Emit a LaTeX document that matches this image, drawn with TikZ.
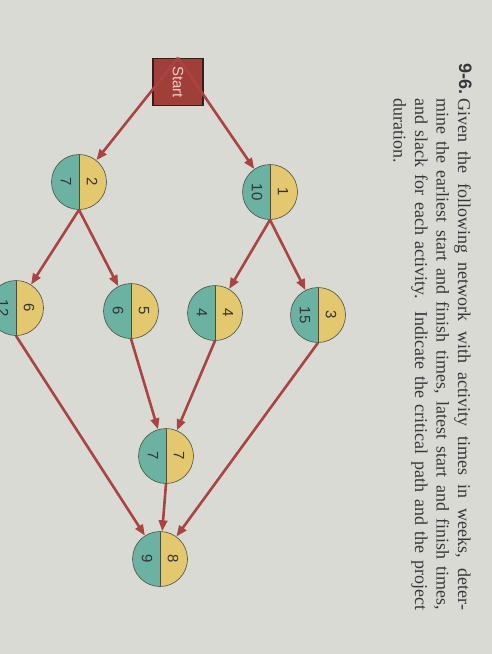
\documentclass[tikz,border=0pt]{standalone}
\usepackage{fontspec}
\setmainfont{Liberation Serif}
\newfontfamily\digitfont{Liberation Sans}
\usetikzlibrary{arrows.meta}
\definecolor{paper}{RGB}{218,218,213}
\definecolor{yelc}{RGB}{228,200,112}
\definecolor{tealc}{RGB}{108,178,163}
\definecolor{circedge}{RGB}{70,80,65}
\definecolor{divc}{RGB}{80,75,45}
\definecolor{arrc}{RGB}{170,68,66}
\definecolor{startfill}{RGB}{160,62,58}
\definecolor{startedge}{RGB}{55,30,28}
\definecolor{starttext}{RGB}{240,205,195}
\definecolor{textc}{RGB}{55,55,58}
\begin{document}
\begin{tikzpicture}[x=1pt,y=-1pt,
  act/.style={circle, minimum size=55pt, inner sep=0pt, draw=circedge, line width=0.6pt,
    path picture={
      \fill[tealc] (path picture bounding box.south west) rectangle (path picture bounding box.north);
      \fill[yelc] (path picture bounding box.south) rectangle (path picture bounding box.north east);
      \draw[divc, line width=0.9pt] (path picture bounding box.south) -- (path picture bounding box.north);}},
  num/.style={rotate=-90, font=\digitfont\fontsize{15}{15}\selectfont, text=black!80, inner sep=0pt},
  arr/.style={draw=arrc, line width=2.6pt, -{Triangle[length=11pt,width=8.5pt]}},
  startbox/.style={rectangle, minimum width=47pt, minimum height=50pt, fill=startfill, draw=startedge, line width=1.5pt,
    text=starttext, font=\digitfont\fontsize{15}{15}\selectfont, rotate=-90, inner sep=0pt},
  txt/.style={rotate=-90, font=\fontsize{18}{18}\selectfont, text=textc, inner sep=0pt},
  txtbold/.style={rotate=-90, font=\digitfont\bfseries\fontsize{18}{18}\selectfont, text=textc, inner sep=0pt}]
\useasboundingbox (0,0) rectangle (492,654);
\fill[paper] (0,0) rectangle (492,654);
\clip (0,0) rectangle (492,654);

\node[startbox] (start) at (178,82) {Start};
\node[act] (n1) at (270,192) {};
\node[act] (n2) at (79,182) {};
\node[act] (n3) at (318,315) {};
\node[act] (n4) at (215,313) {};
\node[act] (n5) at (131,311) {};
\node[act] (n6) at (16,308) {};
\node[act] (n7) at (166,456) {};
\node[act] (n8) at (160,559) {};

\node[num] (n1a) at ([xshift=13pt]n1.center) {1};
\node[num] (n1b) at ([xshift=-13pt]n1.center) {10};
\node[num] (n2a) at ([xshift=13pt]n2.center) {2};
\node[num] (n2b) at ([xshift=-13pt]n2.center) {7};
\node[num] (n3a) at ([xshift=13pt]n3.center) {3};
\node[num] (n3b) at ([xshift=-13pt]n3.center) {15};
\node[num] (n4a) at ([xshift=13pt]n4.center) {4};
\node[num] (n4b) at ([xshift=-13pt]n4.center) {4};
\node[num] (n5a) at ([xshift=13pt]n5.center) {5};
\node[num] (n5b) at ([xshift=-13pt]n5.center) {6};
\node[num] (n6a) at ([xshift=13pt]n6.center) {6};
\node[num] (n6b) at ([xshift=-13pt]n6.center) {12};
\node[num] (n7a) at ([xshift=13pt]n7.center) {7};
\node[num] (n7b) at ([xshift=-13pt]n7.center) {7};
\node[num] (n8a) at ([xshift=13pt]n8.center) {8};
\node[num] (n8b) at ([xshift=-13pt]n8.center) {9};

\draw[arr] (start.west) -- (n1);
\draw[arr] (start.west) -- (n2);
\draw[arr] (n1.south) -- (n3);
\draw[arr] (n1.south) -- (n4);
\draw[arr] (n2.south) -- (n5);
\draw[arr] (n2.south) -- (n6);
\draw[arr] (n5.south) -- (n7);
\draw[arr] (n4.south) -- (n7);
\draw[arr] (n7.south) -- (n8);
\draw[arr] (n3.south) -- (n8);
\draw[arr] (n6.south) -- (n8);

\node[txtbold, anchor=base east] (t0) at (459,95) {9-6.};
\node[txt, anchor=base west] (t1) at (458,98) {\makebox[512pt][s]{Given the following network with activity times in weeks, deter-}};
\node[txt, anchor=base west] (t2) at (436.5,98) {\makebox[512pt][s]{mine the earliest start and finish times, latest start and finish times,}};
\node[txt, anchor=base west] (t3) at (415,98) {\makebox[512pt][s]{and slack for each activity. Indicate the critical path and the project}};
\node[txt, anchor=base west] (t4) at (393.5,98) {duration.};
\end{tikzpicture}
\end{document}
